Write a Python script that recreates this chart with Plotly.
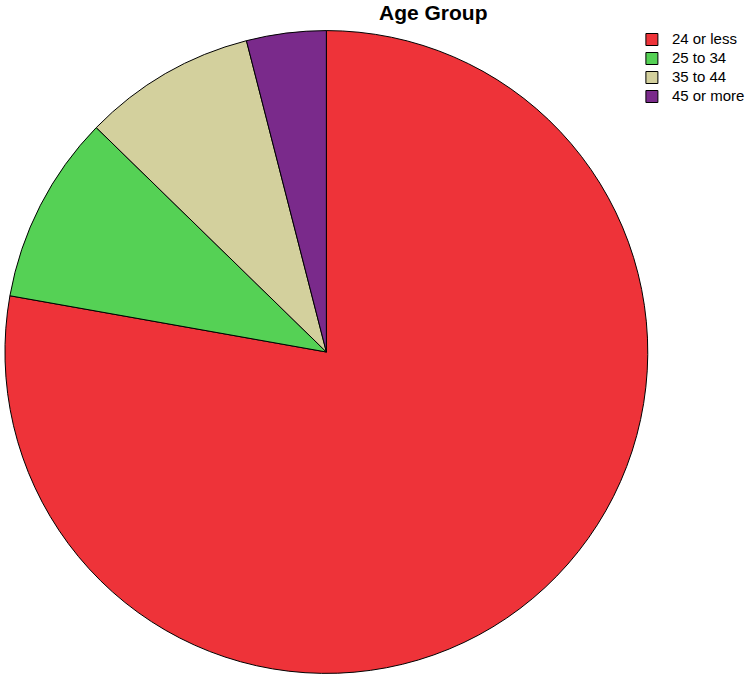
import plotly.graph_objects as go

categories = ["24 or less", "25 to 34", "35 to 44", "45 or more"]
values = [77.8, 9.5, 8.7, 4.0]
colors = ["#EE3339", "#55D155", "#D3D09D", "#7A2A8B"]

W, H = 750, 682
cx, cy, r = 329, 352, 324

legend_labels = ['<span style="font-size:15px">%s</span>' % c for c in categories]

fig = go.Figure(go.Pie(
    labels=legend_labels,
    values=values,
    customdata=categories,
    sort=False,
    direction="clockwise",
    rotation=0,
    textinfo="none",
    hovertemplate="%{customdata}: %{percent}<extra></extra>",
    marker=dict(colors=colors, line=dict(color="#000000", width=1)),
    domain=dict(x=[(cx - r) / W, (cx + r) / W], y=[(H - cy - r) / H, (H - cy + r) / H]),
))

fig.update_layout(
    width=W, height=H,
    margin=dict(l=0, r=0, t=0, b=0),
    paper_bgcolor="white",
    plot_bgcolor="white",
    showlegend=True,
    legend=dict(
        x=637 / W, y=1 - 25 / H, xanchor="left", yanchor="top",
        font=dict(family="Arial, Liberation Sans, sans-serif", size=12, color="#000000"),
        bgcolor="rgba(0,0,0,0)",
        tracegroupgap=0,
        itemwidth=30,
    ),
    annotations=[dict(
        text="<b>Age Group</b>", x=437 / W, y=1 - 13 / H, xref="paper", yref="paper",
        xanchor="center", yanchor="middle", showarrow=False,
        font=dict(family="Arial, Liberation Sans, sans-serif", size=21, color="#000000"),
    )],
)

fig.write_html(
    "out.html",
    config={"displayModeBar": False},
    post_script="document.body.style.margin='0';document.body.style.overflow='hidden';",
)
